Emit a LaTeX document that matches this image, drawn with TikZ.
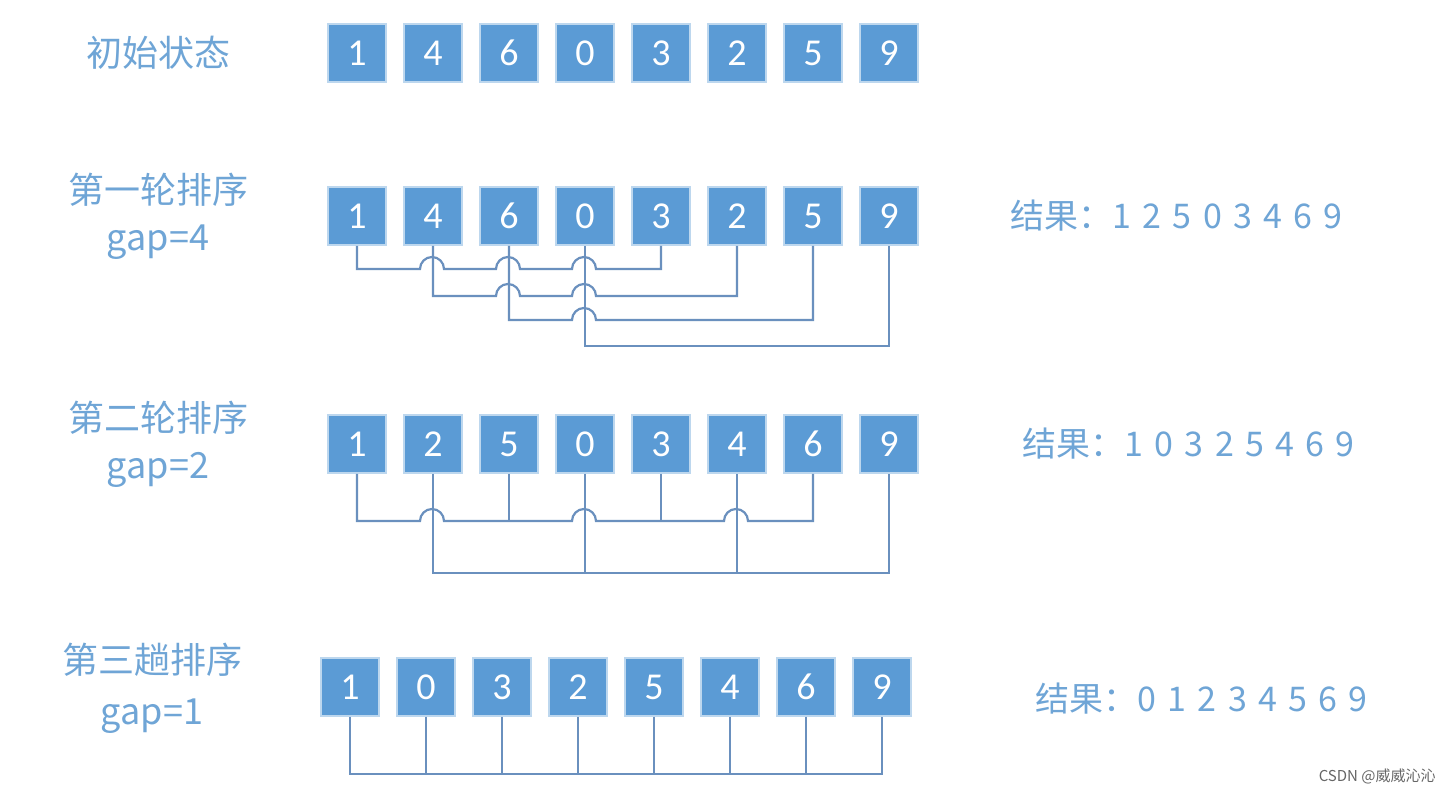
\documentclass[tikz,border=0pt]{standalone}
\usepackage{fontspec}
\setmainfont{Carlito}
\newfontfamily\cjk{Noto Sans CJK SC}
\begin{document}
\begin{tikzpicture}[x=0.5pt,y=-0.5pt,
  cell/.style={draw=white!60!cellblue,line width=0.8pt,fill=cellblue,text=white,minimum width=29pt,minimum height=29pt,inner sep=0pt,font=\fontsize{19}{19}\selectfont},
  lbl/.style={text=lblblue,font=\cjk\fontsize{18}{18}\selectfont,inner sep=0pt},
  res/.style={text=lblblue,font=\cjk\fontsize{17}{17}\selectfont,inner sep=0pt,anchor=west},
  ln/.style={draw=lineblue,line width=1.1pt}]
\definecolor{cellblue}{HTML}{5B9BD5}
\definecolor{lblblue}{HTML}{6FA5D6}
\definecolor{lineblue}{HTML}{6A90BE}
\useasboundingbox[fill=white] (0,0) rectangle (1451,796);
% rows
\foreach \v [count=\i] in {1,4,6,0,3,2,5,9}
  \node[cell] (a\i) at ({357+76*(\i-1)},53) {\v};
\foreach \v [count=\i] in {1,4,6,0,3,2,5,9}
  \node[cell] (b\i) at ({357+76*(\i-1)},216) {\v};
\foreach \v [count=\i] in {1,2,5,0,3,4,6,9}
  \node[cell] (c\i) at ({357+76*(\i-1)},444) {\v};
\foreach \v [count=\i] in {1,0,3,2,5,4,6,9}
  \node[cell] (d\i) at ({350+76*(\i-1)},687) {\v};
% labels
\node[lbl] (l1) at (158,53) {初始状态};
\node[lbl] (l2) at (158,190) {第一轮排序};
\node[lbl] (g2) at (158,242) {gap=4};
\node[lbl] (l3) at (158,418) {第二轮排序};
\node[lbl] (g3) at (158,470) {gap=2};
\node[lbl] (l4) at (152,660) {第三趟排序};
\node[lbl] (g4) at (152,716) {gap=1};
\node[res] (r2) at (1010,216) {结果：1\,\,2\,\,5\,\,0\,\,3\,\,4\,\,6\,\,9};
\node[res] (r3) at (1022,444) {结果：1\,\,0\,\,3\,\,2\,\,5\,\,4\,\,6\,\,9};
\node[res] (r4) at (1035,699) {结果：0\,\,1\,\,2\,\,3\,\,4\,\,5\,\,6\,\,9};
\node[anchor=east,text=gray!80!black,font=\cjk\fontsize{7.5}{8}\selectfont,inner sep=0pt] (wm) at (1436,776) {CSDN @威威沁沁};
% round 1 connectors (gap 4)
\draw[ln] (b1.south) |- (420,269) arc[start angle=180,end angle=360,radius=12] -- (496,269) arc[start angle=180,end angle=360,radius=12] -- (572,269) arc[start angle=180,end angle=360,radius=12] -| (b5.south);
\draw[ln] (b2.south) |- (496,296) arc[start angle=180,end angle=360,radius=12] -- (572,296) arc[start angle=180,end angle=360,radius=12] -| (b6.south);
\draw[ln] (b3.south) |- (572,320) arc[start angle=180,end angle=360,radius=12] -| (b7.south);
\draw[ln] (b4.south) |- (b8.south |- 0,346) -- (b8.south);
% round 2 connectors (gap 2)
\draw[ln] (b1.south) ++(0,0);
\draw[ln] (c1.south) |- (420,521) arc[start angle=180,end angle=360,radius=12] -- (572,521) arc[start angle=180,end angle=360,radius=12] -- (724,521) arc[start angle=180,end angle=360,radius=12] -| (c7.south);
\draw[ln] (c3.south) -- (c3.south |- 0,521);
\draw[ln] (c5.south) -- (c5.south |- 0,521);
\draw[ln] (c2.south) |- (c8.south |- 0,573) -- (c8.south);
\draw[ln] (c4.south) -- (c4.south |- 0,573);
\draw[ln] (c6.south) -- (c6.south |- 0,573);
% round 3 connectors (gap 1)
\draw[ln] (d1.south) |- (d8.south |- 0,774) -- (d8.south);
\foreach \i in {2,...,7} \draw[ln] (d\i.south) -- (d\i.south |- 0,774);
\end{tikzpicture}
\end{document}
